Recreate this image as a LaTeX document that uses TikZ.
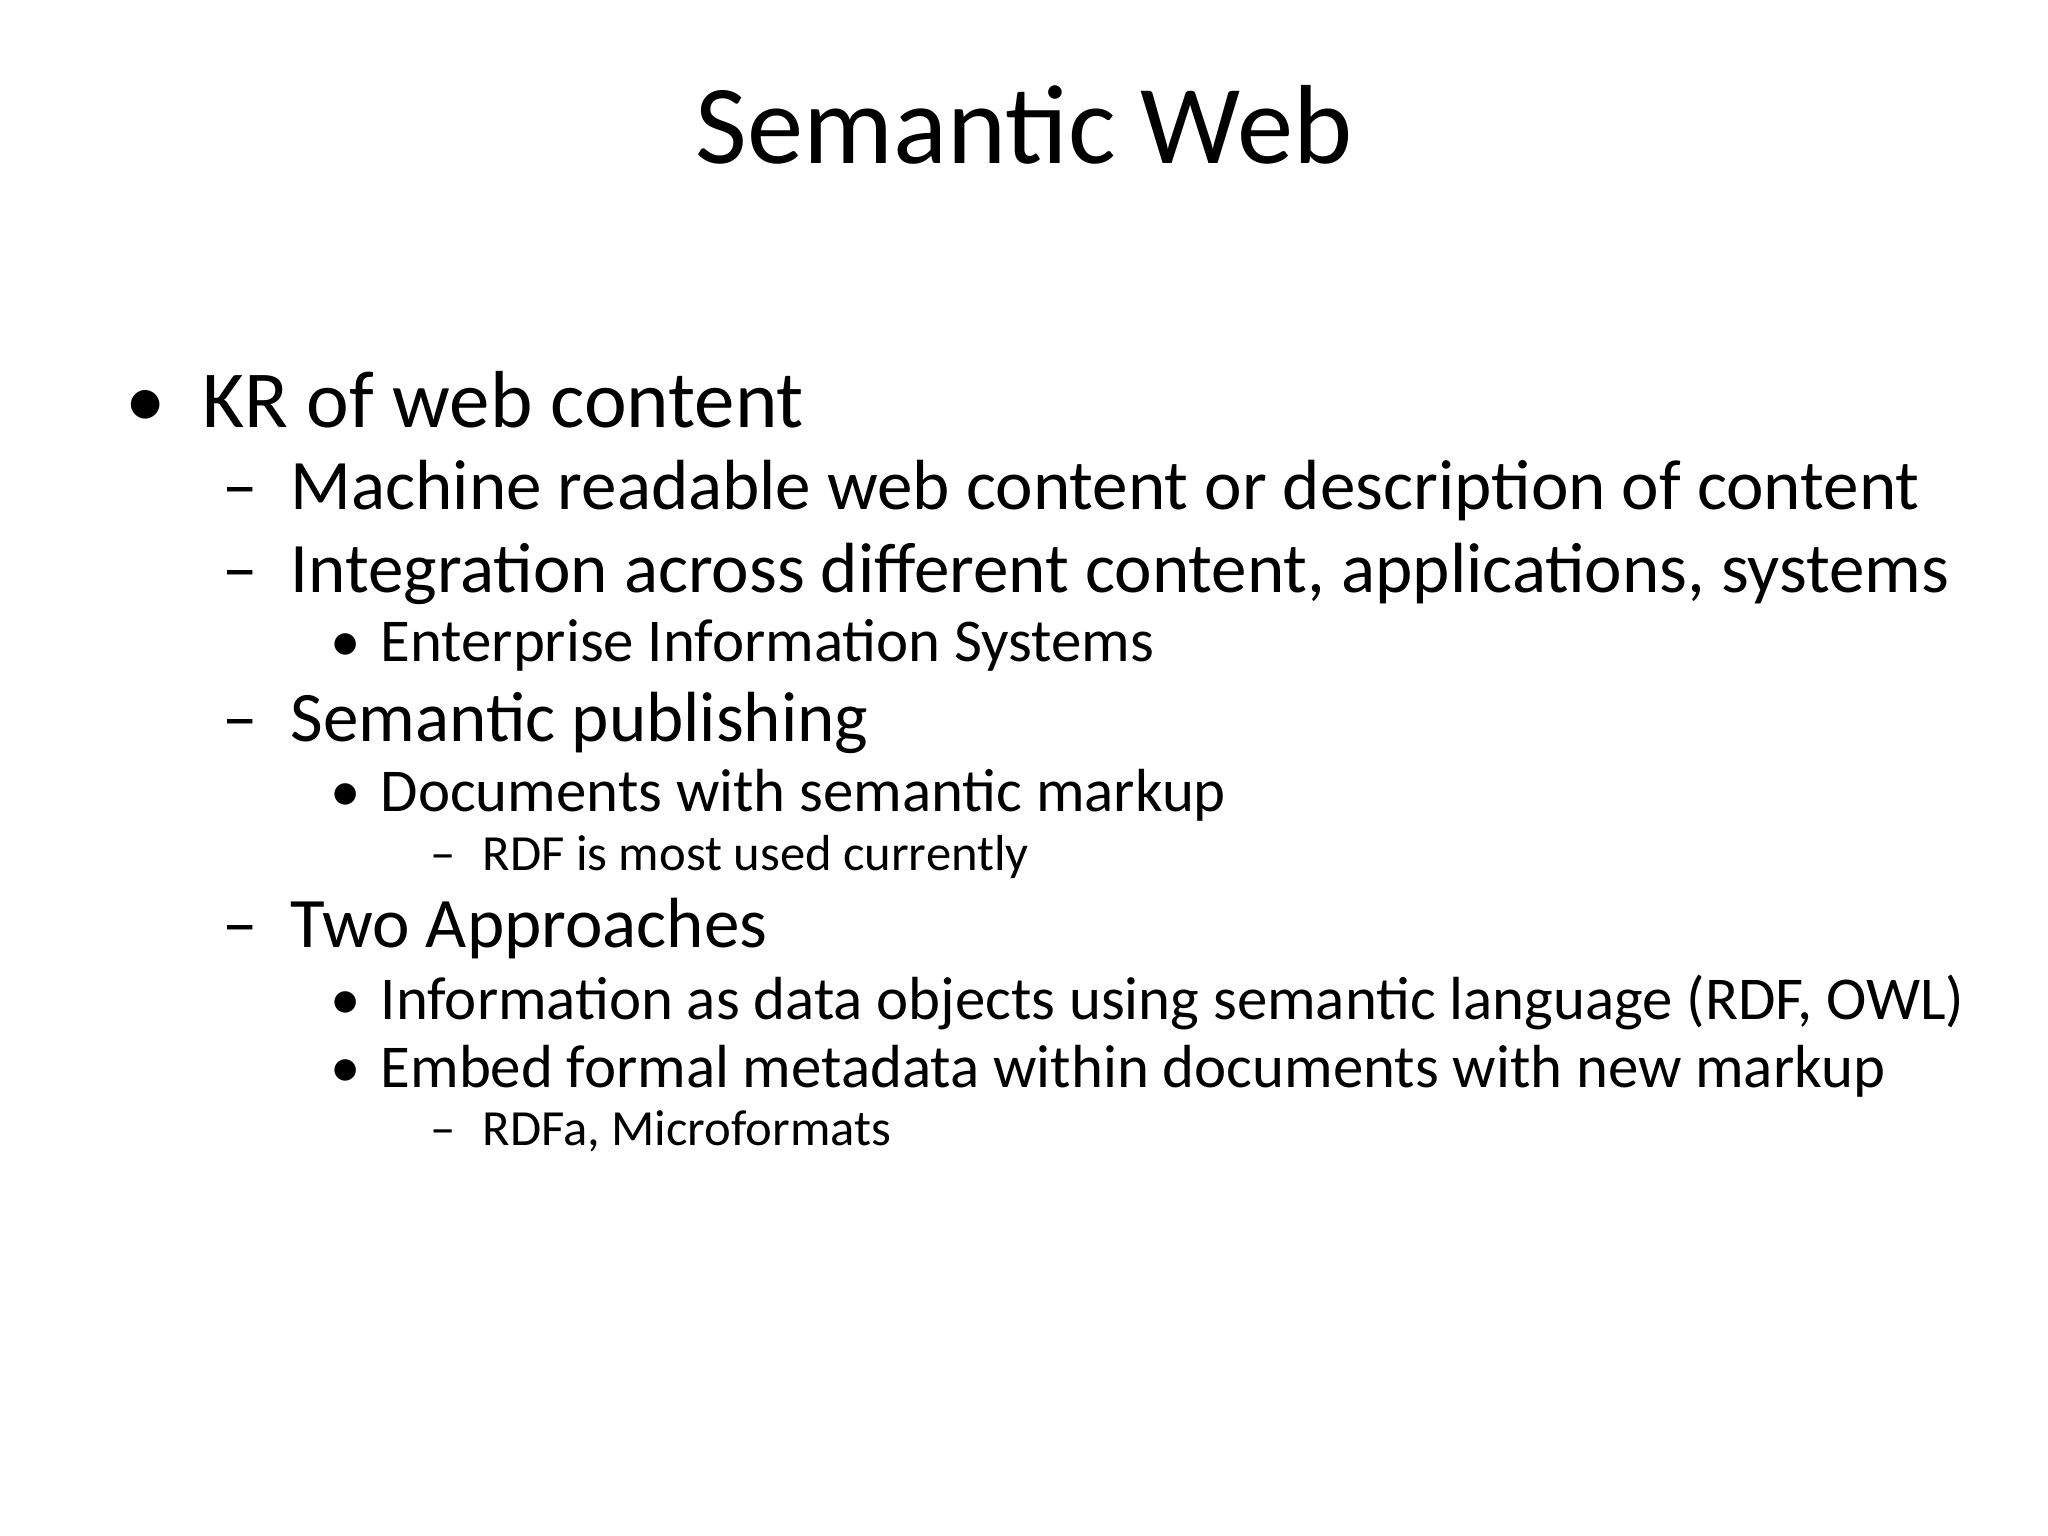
\documentclass[tikz,border=0pt]{standalone}
\usepackage{fontspec}
\setmainfont{Carlito}
\begin{document}
\begin{tikzpicture}[x=0.01cm,y=-0.01cm,
  t/.style={anchor=base west,inner sep=0pt},
  ttl/.style={anchor=base,inner sep=0pt,font=\fontsize{32pt}{38pt}\selectfont},
  la/.style={t,font=\fontsize{23pt}{28pt}\selectfont},
  lb/.style={t,font=\fontsize{20.2pt}{24pt}\selectfont},
  lc/.style={t,font=\fontsize{17.3pt}{21pt}\selectfont},
  ld/.style={t,font=\fontsize{14.4pt}{17pt}\selectfont}]
\useasboundingbox (0,0) rectangle (2048,1536);
\node[ttl] (title) at (1024,163) {Semantic Web};
\node[la] (b1) at (125,427) {•};
\node[la] (t1) at (202,427) {KR of web content};
\node[lb] (d1) at (222,509) {–};
\node[lb] (t2) at (290,509) {Machine readable web content or description of content};
\node[lb] (d2) at (222,592) {–};
\node[lb] (t3) at (290,592) {Integration across different content, applications, systems};
\node[lc] (b2) at (330,661) {•};
\node[lc] (t4) at (380,661) {Enterprise Information Systems};
\node[lb] (d3) at (222,741) {–};
\node[lb] (t5) at (290,741) {Semantic publishing};
\node[lc] (b3) at (330,811) {•};
\node[lc] (t6) at (380,811) {Documents with semantic markup};
\node[ld] (d4) at (430,870) {–};
\node[ld] (t7) at (482,870) {RDF is most used currently};
\node[lb] (d5) at (222,947) {–};
\node[lb] (t8) at (290,947) {Two Approaches};
\node[lc] (b4) at (330,1019) {•};
\node[lc] (t9) at (380,1019) {Information as data objects using semantic language (RDF, OWL)};
\node[lc] (b5) at (330,1087) {•};
\node[lc] (t10) at (380,1087) {Embed formal metadata within documents with new markup};
\node[ld] (d6) at (430,1145) {–};
\node[ld] (t11) at (482,1145) {RDFa, Microformats};
\end{tikzpicture}
\end{document}
